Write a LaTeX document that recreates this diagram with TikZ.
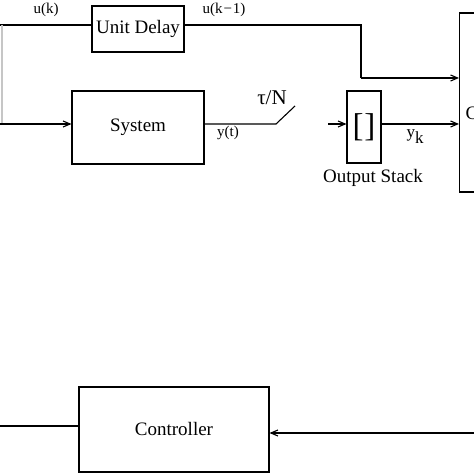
\documentclass[tikz,border=0pt]{standalone}
\usepackage{fontspec}
\setmainfont{Liberation Serif}
\usetikzlibrary{arrows.meta}
\tikzset{
  blockbox/.style={draw, line width=1.1pt, rectangle, inner sep=0pt, font=\fontsize{19}{22}\selectfont},
  sig/.style={font=\fontsize{15}{17}\selectfont},
}
\begin{document}
\begin{tikzpicture}[x=1pt, y=1pt, line width=1.1pt, >={Straight Barb[length=7pt,width=6pt]}]
            \useasboundingbox (0,0) rectangle (474,474);
            \clip (0,0) rectangle (474,474);
            % blocks
            \node[blockbox, minimum width=92pt, minimum height=46pt] (delay) at (138,445) {Unit Delay};
            \node[blockbox, minimum width=132pt, minimum height=73pt] (sys) at (138,346.5) {System};
            \node[blockbox, minimum width=34pt, minimum height=72pt, font=\fontsize{33}{33}\selectfont] (stack) at (364,347) {[\kern1pt]};
            \node[blockbox, minimum width=60pt, minimum height=179pt, anchor=west] (comp) at (459,371.5) {};
            \node[font=\fontsize{19}{22}\selectfont, anchor=west, inner sep=0pt] (complbl) at (465,361) {C};
            \node[blockbox, minimum width=190pt, minimum height=85pt] (ctrl) at (174,44.5) {Controller};
            % free ends
            \coordinate (uin) at (0,449);
            \coordinate (sysin) at (0,350);
            \coordinate (corner) at (361,396);
            \coordinate (swa) at (276,350);
            \coordinate (swb) at (295,368);
            \coordinate (stackin) at (328,350);
            \coordinate (cin) at (0,48);
            \coordinate (cfb) at (474,41);
            % connectors
            \draw (uin) -- (uin -| delay.west);
            \draw[gray!45] (2,449) -- (2,350);
            \draw[->] (sysin) -- (sysin -| sys.west);
            \draw (delay.east |- uin) -- (corner |- uin) -- (corner);
            \draw[->] (corner) -- (corner -| comp.west);
            \draw (sys.east |- sysin) -- (swa) -- (swb);
            \draw[->] (stackin) -- (stackin -| stack.west);
            \draw[->] (stack.east |- stackin) -- (stackin -| comp.west);
            \draw (cin) -- (cin -| ctrl.west);
            \draw[->] (cfb) -- (cfb -| ctrl.east);
            % labels
            \node[sig] (uklbl) at (46,464) {u(k)};
            \node[sig] (uk1lbl) at (224,464) {u(k\kern1pt−\kern1pt1)};
            \node[sig] (ytlbl) at (228,341) {y(t)};
            \node[font=\fontsize{21}{24}\selectfont] (taulbl) at (272,376) {τ/N};
            \node[sig, font=\fontsize{17}{19}\selectfont] (yklbl) at (415,337) {y\raisebox{-6pt}{k}};
            \node[font=\fontsize{19}{22}\selectfont] (stacklbl) at (373,296) {Output Stack};
        \end{tikzpicture}
\end{document}
